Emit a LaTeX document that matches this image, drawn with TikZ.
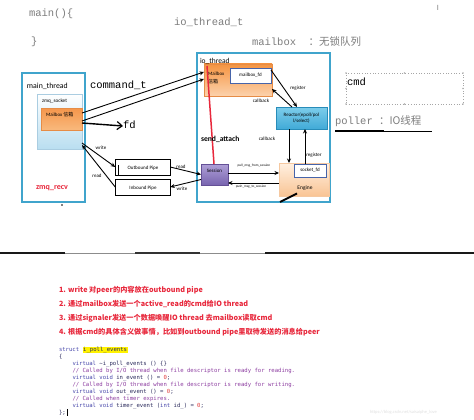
\documentclass[tikz,border=0pt]{standalone}
\usepackage{fontspec}
\setmainfont{Carlito}
\newfontfamily\cjk{Noto Sans CJK SC}
\newfontfamily\mono{Liberation Mono}
\newfontfamily\code{DejaVu Sans Mono}
\usetikzlibrary{shapes.geometric,arrows.meta}
\definecolor{teal1}{RGB}{64,164,204}
\definecolor{gray1}{RGB}{125,125,125}
\definecolor{red1}{RGB}{232,40,60}
\definecolor{kw}{RGB}{70,70,170}
\definecolor{cm}{RGB}{140,60,160}
\definecolor{num}{RGB}{225,60,60}
\definecolor{idn}{RGB}{40,40,90}
\definecolor{fdborder}{RGB}{70,100,170}
\begin{document}
\begin{tikzpicture}[x=1pt,y=-1pt,
  every node/.style={inner sep=0pt, outer sep=0pt},
  arr/.style={draw=black, line width=0.9pt, -{Stealth[length=4.5pt,width=4pt]}},
  lab/.style={font=\fontsize{5}{6}\selectfont},
  tinylab/.style={font=\fontsize{3.4}{4}\selectfont},
  frame/.style={draw=teal1, line width=1.4pt, fill=white, anchor=north west},
  monotxt/.style={font=\mono\fontsize{10.5}{12}\selectfont, text=gray1, anchor=west},
  blacktxt/.style={font=\mono\fontsize{10.5}{12}\selectfont, text=black, anchor=west},
  redtxt/.style={font=\cjk\bfseries\fontsize{7.2}{8}\selectfont, text=red1, anchor=west},
  codetxt/.style={font=\code\fontsize{5.6}{6.5}\selectfont, text=idn, anchor=base west},
  fdbox/.style={draw=fdborder, line width=0.9pt, fill=white, anchor=north west},
  pipe/.style={cylinder, draw=black, line width=0.9pt, fill=white, aspect=0.35,
     minimum width=16pt, minimum height=55pt, shape border rotate=0}
]
\useasboundingbox (0,0) rectangle (474,420);
\fill[white] (0,0) rectangle (474,420);

% top texts
\node[monotxt] (mainfn) at (29,14) {main()\{};
\node[monotxt] (mainend) at (31,42) {\}};
\node[monotxt] (iot) at (174,22) {io\_thread\_t};
\node[monotxt] (mbt) at (252,42) {mailbox\ \ {\cjk ：无锁队列}};
\node[font=\fontsize{8}{9}\selectfont, text=gray1] (cursor) at (438,8) {I};

% main thread
\node[frame, minimum width=63pt, minimum height=129pt] (mainthread) at (22,73) {};
\node[font=\fontsize{7.8}{9}\selectfont, anchor=west] (mtlab) at (27,86) {main\_thread};
\node[draw={rgb,255:red,170;green,205;blue,225}, line width=0.5pt, top color=white, bottom color={rgb,255:red,185;green,222;blue,240}, anchor=north west, minimum width=45pt, minimum height=55pt] (zmq) at (37,94) {};
\node[font=\fontsize{5.2}{6}\selectfont, anchor=west] (zmqlab) at (42,101) {zmq\_socket};
\node[draw={rgb,255:red,230;green,140;blue,70}, line width=0.4pt, top color={rgb,255:red,245;green,150;blue,75}, bottom color={rgb,255:red,248;green,185;blue,125}, anchor=north west, minimum width=41pt, minimum height=22pt] (mbox1) at (41,108) {};
\node[lab, anchor=west] (mbox1lab) at (46,115) {Mailbox {\cjk 信箱}};
\node[font=\bfseries\fontsize{8}{9}\selectfont, text=red1] (recv) at (52,188) {zmq\_recv};
\fill[black] (62,205) circle (0.8pt);

\node[blacktxt] (cmdt) at (90,85) {command\_t};
\node[blacktxt] (fd) at (123,125) {fd};

% pipes
\node[pipe] (outpipe) at (142.5,167) {};
\node[lab] (outlab) at (143,168) {Outbound Pipe};
\node[pipe] (inpipe) at (142.5,187) {};
\node[lab] (inlab) at (143,188) {Inbound Pipe};
\draw[line width=1.3pt] (118.5,165) -- (118.5,176);

% io thread
\node[frame, minimum width=133pt, minimum height=149pt] (iothread) at (197,53) {};
\node[draw={rgb,255:red,230;green,140;blue,70}, line width=0.4pt, top color={rgb,255:red,245;green,148;blue,65}, bottom color={rgb,255:red,252;green,210;blue,172}, anchor=north west, minimum width=68pt, minimum height=32pt] (mbox2) at (204,64) {};
\node[font=\fontsize{7.5}{9}\selectfont, anchor=west] (iolab) at (200,61) {io\_thread};
\node[lab, anchor=west] (mbox2lab) at (208,74) {Mailbox};
\node[lab, anchor=west] (mbox2cn) at (208,82) {\cjk 信箱};
\node[fdbox, minimum width=41pt, minimum height=15pt] (mailboxfd) at (230,68) {};
\node[lab] (mailboxfdlab) at (250.5,75.5) {mailbox\_fd};
\node[draw={rgb,255:red,40;green,140;blue,185}, line width=0.6pt, top color={rgb,255:red,125;green,205;blue,235}, bottom color={rgb,255:red,65;green,170;blue,215}, anchor=north west, minimum width=51pt, minimum height=22pt] (reactor) at (276,107) {};
\node[lab, align=center] (reactorlab) at (301.5,118) {Reactor(epoll/pol\\l/select)};
\node[draw={rgb,255:red,100;green,80;blue,150}, line width=0.5pt, top color={rgb,255:red,175;green,160;blue,215}, bottom color={rgb,255:red,120;green,100;blue,175}, anchor=north west, minimum width=27pt, minimum height=21pt] (session) at (201,164) {};
\node[lab] (sessionlab) at (214.5,171) {Session};
\node[draw={rgb,255:red,245;green,200;blue,160}, line width=0.4pt, top color={rgb,255:red,255;green,240;blue,225}, bottom color={rgb,255:red,249;green,196;blue,148}, anchor=north west, minimum width=50pt, minimum height=33pt] (engine) at (279,163) {};
\node[font=\fontsize{5.5}{6}\selectfont] (enginelab) at (305,188) {Engine};
\node[fdbox, minimum width=32pt, minimum height=13pt] (socketfd) at (294,164) {};
\node[lab] (socketfdlab) at (310,170.5) {socket\_fd};

% connectors main -> io mailbox
\draw[arr] ([yshift=6pt]mbox1.east) -- ([yshift=8pt]mbox2.west);
\draw[arr] ([yshift=-2pt]mbox1.east) -- ([yshift=1pt]mbox2.west);
\draw[draw=black, line width=1.4pt, -{Straight Barb[length=5pt,width=8pt,line width=1.2pt]}] ([yshift=-4pt]mbox1.east) -- ([yshift=-1pt]fd.west);

% pipes connectors
\draw[arr] ([yshift=6pt]zmq.south east) -- (outpipe.west);
\draw[arr] (inpipe.west) -- ([yshift=4pt]zmq.south east);
\node[lab] (wlab1) at (101,148) {write};
\node[lab] (rlab1) at (97,176) {read};
\draw[arr] (outpipe.east) -- (session.west);
\draw[arr] ([yshift=-5pt]session.west) -- (inpipe.east);
\node[lab] (rlab2) at (181,167) {read};
\node[lab] (wlab2) at (182,189) {write};

% io internal
\draw[arr] ([yshift=-2pt]mailboxfd.north east) -- ([xshift=-4.5pt]reactor.north);
\draw[arr] ([xshift=-9.5pt]reactor.north) -- ([yshift=-9pt]mbox2.east);
\node[lab] (reglab1) at (298,88) {register};
\node[lab] (cblab1) at (261,101) {callback};
\draw[arr] ([xshift=-12.5pt]reactor.south) -- ([xshift=-12.5pt]reactor.south |- engine.north);
\draw[arr] ([xshift=-5pt]socketfd.north) -- ([xshift=-5pt]socketfd.north |- reactor.south);
\node[lab] (cblab2) at (267,139) {callback};
\node[lab] (reglab2) at (314,155) {register};
\draw[arr] ([yshift=1.5pt]session.east) -- ([yshift=1.5pt]session.east -| engine.west);
\draw[arr] ([yshift=-8.5pt]session.east -| engine.west) -- ([yshift=-8.5pt]session.east);
\node[tinylab] (pulllab) at (254,166) {pull\_msg\_from\_session};
\node[tinylab] (pushlab) at (251,187) {push\_msg\_to\_session};

\coordinate (redstart) at (207,66);
\draw[red1, line width=1.5pt] (redstart) -- ([xshift=-0.5pt]session.north);
\node[font=\bfseries\fontsize{7.6}{9}\selectfont, anchor=west] (sendatt) at (201,139) {send\_attach};
\coordinate (blA) at (280,202);
\coordinate (blB) at (297,193.5);
\draw[line width=1.8pt] (blA) -- (blB);

% cmd box
\node[draw=gray!70, dotted, line width=0.7pt, anchor=north west, minimum width=117pt, minimum height=31pt] (cmdbox) at (346,73) {};
\foreach \a in {north west,north,north east,east,south east,south,south west,west}
  \fill[gray!60] (cmdbox.\a) circle (0.9pt);
\node[blacktxt] (cmdtxt) at (347,82) {cmd};
\node[monotxt] (poller) at (335,121) {poller {\cjk ：IO线程}};
\draw[line width=1.6pt] (335,131) -- (384,131);
\draw[line width=1.2pt] (384,131.5) -- (432,131.5);

% separator
\draw[line width=1.8pt, black!90] (0,253) -- (65,253);
\draw[line width=1pt, black!45] (65,253) -- (135,253);
\draw[line width=1.4pt, black!80] (135,253) -- (200,253);
\draw[line width=1pt, black!45] (200,253) -- (265,253);
\draw[line width=1.8pt, black!90] (265,253) -- (474,253);

% red text
\node[redtxt] (r1) at (59,290) {1. write 对peer的内容放在outbound pipe};
\node[redtxt] (r2) at (59,304) {2. 通过mailbox发送一个active\_read的cmd给IO thread};
\node[redtxt] (r3) at (59,318) {3. 通过signaler发送一个数据唤醒IO thread 去mailbox读取cmd};
\node[redtxt] (r4) at (59,332) {4. 根据cmd的具体含义做事情，比如到outbound pipe里取待发送的消息给peer};

% code
\node[codetxt] (c1) at (59,351.5) {{\color{kw}struct} {\setlength\fboxsep{0.6pt}\colorbox{yellow}{i\_poll\_events}}};
\node[codetxt] (c2) at (59,358.5) {\{};
\node[codetxt] (c3) at (72.5,365.5) {{\color{kw}virtual} \textasciitilde i\_poll\_events () \{\}};
\node[codetxt, text=cm] (c4) at (72.5,372.5) {// Called by I/O thread when file descriptor is ready for reading.};
\node[codetxt] (c5) at (72.5,379.5) {{\color{kw}virtual void} in\_event () = {\color{num}0};};
\node[codetxt, text=cm] (c6) at (72.5,386.5) {// Called by I/O thread when file descriptor is ready for writing.};
\node[codetxt] (c7) at (72.5,393.5) {{\color{kw}virtual void} out\_event () = {\color{num}0};};
\node[codetxt, text=cm] (c8) at (72.5,400.5) {// Called when timer expires.};
\node[codetxt] (c9) at (72.5,407.5) {{\color{kw}virtual void} timer\_event ({\color{kw}int} id\_) = {\color{num}0};};
\node[codetxt] (c10) at (59,414.5) {\};};
\draw[line width=0.9pt] (67,409) -- (67,416);
\node[font=\fontsize{4.5}{5}\selectfont, text=black!12, anchor=west] (wm) at (370,412) {https://blog.csdn.net/saisaiphe\_love};
\end{tikzpicture}
\end{document}
